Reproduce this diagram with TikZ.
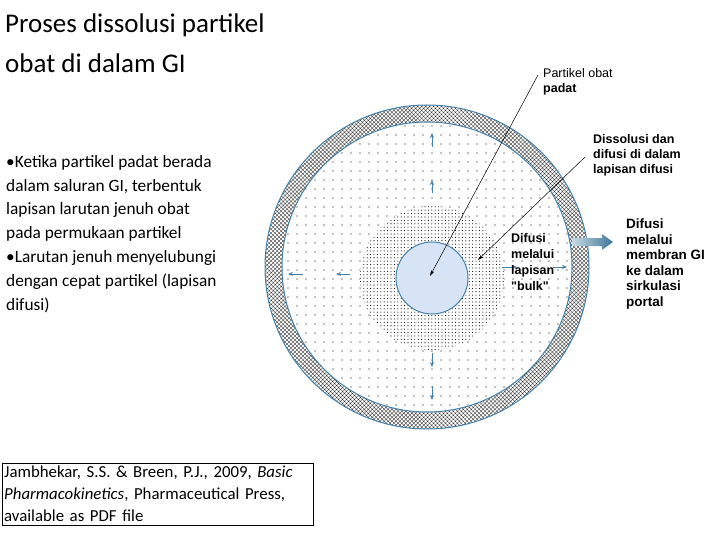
\documentclass[tikz,border=0pt]{standalone}
\usepackage{fontspec}
\setmainfont{Carlito}
\newfontfamily\lab{Liberation Sans}
\usetikzlibrary{patterns.meta,arrows.meta}
\definecolor{ringblue}{RGB}{70,130,170}
\definecolor{partfill}{RGB}{215,228,245}
\tikzset{
  flow/.style={-{Stealth[length=5pt,width=4pt]},ringblue,line width=0.7pt},
  leader/.style={-{Stealth[length=6pt,width=3.5pt]},black,line width=0.5pt},
  lbl/.style={anchor=north west,align=left,font=\lab\fontsize{12.5}{15}\selectfont,inner sep=0pt},
  blbl/.style={lbl,font=\lab\bfseries\fontsize{12.5}{15}\selectfont},
}
\begin{document}
\begin{tikzpicture}[x=1pt,y=-1pt]
\useasboundingbox (0,0) rectangle (720,540);
% title and text
\node[anchor=north west,align=left,inner sep=0pt,font=\fontsize{27}{40}\selectfont] (title) at (5,14) {Proses dissolusi partikel\\obat di dalam GI};
\node[anchor=north west,align=left,inner sep=0pt,font=\fontsize{17.3}{23.8}\selectfont] (txt) at (6,155) {•Ketika partikel padat berada\\dalam saluran GI, terbentuk\\lapisan larutan jenuh obat\\pada permukaan partikel\\•Larutan jenuh menyelubungi\\dengan cepat partikel (lapisan\\difusi)};
\node[draw,anchor=north west,align=left,inner xsep=2pt,inner ysep=3pt,text width=307pt,font=\fontsize{16.8}{22}\selectfont] (ref) at (2,463) {Jambhekar, S.S. \& Breen, P.J., 2009, \textit{Basic}\\\textit{Pharmacokinetics}, Pharmaceutical Press,\\available as PDF file};
% diagram
\coordinate (c) at (427,267);
\fill[even odd rule,pattern={Hatch[distance=2.8pt,angle=45,line width=0.35pt]},pattern color=black!80] (c) circle (162) (c) circle (145);
\draw[ringblue,line width=1pt] (c) circle (162);
\draw[ringblue,line width=1pt] (c) circle (145);
\fill[pattern={Dots[distance=9pt,radius=0.6pt]}] (c) circle (144);
\fill[white] (432,278) circle (72);
\fill[pattern={Dots[distance=3.4pt,radius=0.55pt]}] (432,278) circle (72);
\node[circle,draw=ringblue,fill=partfill,line width=1pt,minimum size=72pt,inner sep=0pt] (p) at (432,278) {};
% flow arrows
\coordinate (u1s) at (432,147); \coordinate (u1e) at (432,133);
\coordinate (u2s) at (432,193); \coordinate (u2e) at (432,180);
\coordinate (d1s) at (432,353); \coordinate (d1e) at (432,367);
\coordinate (d2s) at (432,386); \coordinate (d2e) at (432,400);
\coordinate (l1s) at (303,274); \coordinate (l1e) at (288,274);
\coordinate (l2s) at (350,274); \coordinate (l2e) at (336,274);
\coordinate (r1s) at (502,267); \coordinate (r1e) at (517,267);
\coordinate (r2s) at (553,267); \coordinate (r2e) at (567,267);
\foreach \a in {u1,u2,d1,d2,l1,l2,r1,r2} \draw[flow] (\a s) -- (\a e);
% big arrow
\shade[left color=ringblue!30,right color=ringblue!90!black] (572,238) -- (602,238) -- (602,234) -- (613,242) -- (602,250) -- (602,246) -- (572,246) -- cycle;
% labels
\node[lbl] (l1) at (543,68) {Partikel obat\\\textbf{padat}};
\node[blbl] (l2) at (593,134) {Dissolusi dan\\difusi di dalam\\lapisan difusi};
\node[blbl,font=\lab\bfseries\fontsize{12.5}{16}\selectfont] (l3) at (511,233) {Difusi\\melalui\\lapisan\\"bulk"};
\node[blbl,font=\lab\bfseries\fontsize{13.5}{15.5}\selectfont] (l4) at (626,219) {Difusi\\melalui\\membran GI\\ke dalam\\sirkulasi\\portal};
\coordinate (a1) at (538,75);
\coordinate (a2) at (585,157);
\draw[leader] (a1) -- (430,276);
\draw[leader] (a2) -- (478,260);
\end{tikzpicture}
\end{document}
